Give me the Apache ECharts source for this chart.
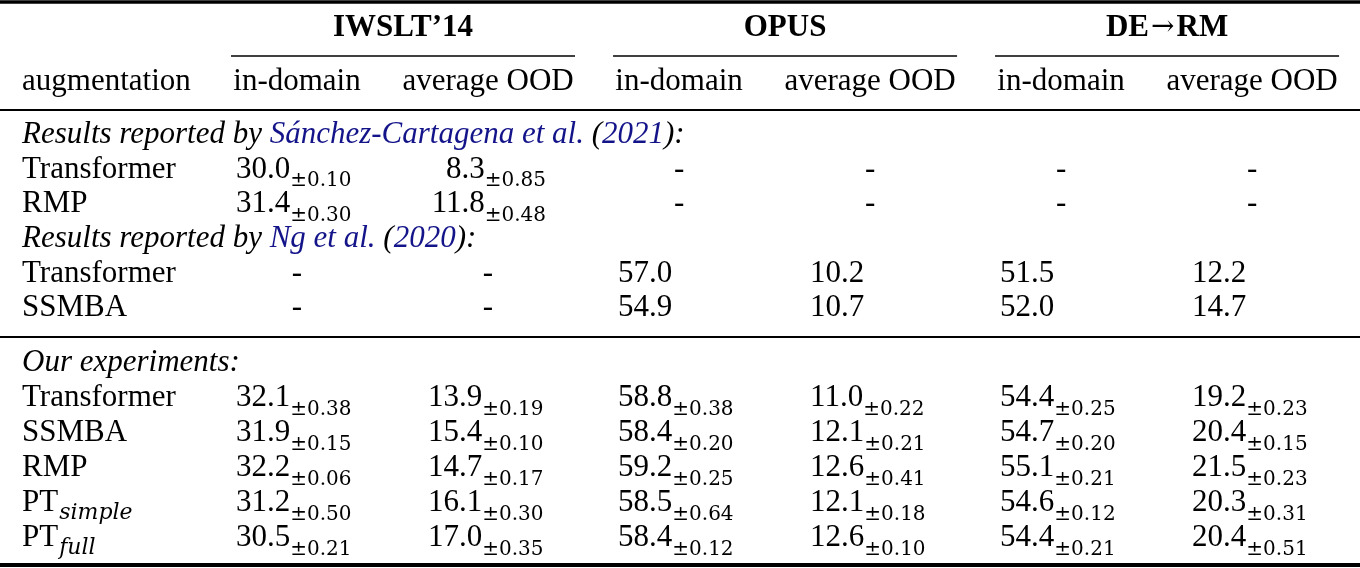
<!DOCTYPE html>
<html><head><meta charset="utf-8">
<script src="https://cdn.jsdelivr.net/npm/echarts@6/dist/echarts.min.js"></script>
<style>html,body{margin:0;padding:0;background:#fff}#c{width:1360px;height:568px}</style>
</head><body><div id="c"></div>
<script>
// ---------- data ----------
const groups = ['IWSLT’14', 'OPUS', 'DE→RM'];
const groupSpans = [[1, 2], [3, 4], [5, 6]];
const columnHeaders = ['augmentation', 'in-domain', 'average OOD', 'in-domain', 'average OOD', 'in-domain', 'average OOD'];

const sanchezCite = ['Sánchez-Cartagena et al.', '2021'];
const sanchezModels = ['Transformer', 'RMP'];
const sanchezIwsltIn = [30.0, 31.4];
const sanchezIwsltInStd = [0.10, 0.30];
const sanchezIwsltOod = [8.3, 11.8];
const sanchezIwsltOodStd = [0.85, 0.48];

const ngCite = ['Ng et al.', '2020'];
const ngModels = ['Transformer', 'SSMBA'];
const ngOpusIn = [57.0, 54.9];
const ngOpusOod = [10.2, 10.7];
const ngDeIn = [51.5, 52.0];
const ngDeOod = [12.2, 14.7];

const ourTitle = 'Our experiments:';
const ourModels = ['Transformer', 'SSMBA', 'RMP', 'PT', 'PT'];
const ourModelSubs = ['', '', '', 'simple', 'full'];
const ourIwsltIn = [32.1, 31.9, 32.2, 31.2, 30.5];
const ourIwsltInStd = [0.38, 0.15, 0.06, 0.50, 0.21];
const ourIwsltOod = [13.9, 15.4, 14.7, 16.1, 17.0];
const ourIwsltOodStd = [0.19, 0.10, 0.17, 0.30, 0.35];
const ourOpusIn = [58.8, 58.4, 59.2, 58.5, 58.4];
const ourOpusInStd = [0.38, 0.20, 0.25, 0.64, 0.12];
const ourOpusOod = [11.0, 12.1, 12.6, 12.1, 12.6];
const ourOpusOodStd = [0.22, 0.21, 0.41, 0.18, 0.10];
const ourDeIn = [54.4, 54.7, 55.1, 54.6, 54.4];
const ourDeInStd = [0.25, 0.20, 0.21, 0.12, 0.21];
const ourDeOod = [19.2, 20.4, 21.5, 20.3, 20.4];
const ourDeOodStd = [0.23, 0.15, 0.23, 0.31, 0.51];

// ---------- styles ----------
const SERIF = '"Liberation Serif", "Times New Roman", serif';
const SUBF = '"DejaVu Serif", serif';
const CITE = '#14148a';
const base = { fontFamily: SERIF, fontSize: 31, lineHeight: 36, color: '#000', textBorderWidth: 0 };
const rich = {
  n: Object.assign({}, base),
  i: Object.assign({}, base, { fontStyle: 'italic' }),
  c: Object.assign({}, base, { fontStyle: 'italic', color: CITE }),
  s: { fontFamily: SUBF, fontSize: 20, lineHeight: 36, color: '#000', textBorderWidth: 0, padding: [23, 0, 0, 0] },
  m: { fontFamily: SUBF, fontSize: 22, lineHeight: 36, color: '#000', textBorderWidth: 0, fontStyle: 'italic', padding: [20, 0, 0, 1] }
};
const headRich = {
  b: { fontFamily: SERIF, fontSize: 31, fontWeight: 'bold', lineHeight: 36, color: '#000' },
  a: { fontFamily: SUBF, fontSize: 28, fontWeight: 'normal', lineHeight: 36, color: '#000', padding: [0, 2, 0, 2] }
};
const kinds = {
  name: { align: 'left', offset: [-84, 0] },
  inL: { align: 'left', offset: [-61, 0] },
  oodL: { align: 'left', offset: [-60, 0] },
  oodR: { align: 'right', offset: [58, 0] },
  mid: { align: 'center', offset: [0, 0] }
};

function num(v, sd) {
  return '{n|' + v.toFixed(1) + '}' + (sd === undefined ? '' : '{s|±' + sd.toFixed(2) + '}');
}
function cell(col, row, text, kind) {
  return { value: [col, row], text: text, label: kinds[kind] };
}
function citeTitle(cite) {
  return '{i|Results reported by }{c|' + cite[0] + '}{i| (}{c|' + cite[1] + '}{i|):}';
}
function modelName(name, sub) {
  return '{n|' + name + '}' + (sub ? '{m|' + sub + '}' : '');
}
function groupText(g) {
  return '{b|' + g.replace('→', '}{a|→}{b|') + '}';
}

// header cells
const headCells = columnHeaders.map((h, k) => cell(k, 1, '{n|' + h + '}', k === 0 ? 'name' : 'mid'));

// section 1 cells
const s1Cells = [];
s1Cells.push(cell(0, 0, citeTitle(sanchezCite), 'name'));
sanchezModels.forEach((m, r) => {
  const row = 1 + r;
  s1Cells.push(cell(0, row, modelName(m, ''), 'name'));
  s1Cells.push(cell(1, row, num(sanchezIwsltIn[r], sanchezIwsltInStd[r]), 'inL'));
  s1Cells.push(cell(2, row, num(sanchezIwsltOod[r], sanchezIwsltOodStd[r]), 'oodR'));
  for (let k = 3; k <= 6; k++) s1Cells.push(cell(k, row, '{n|-}', 'mid'));
});
s1Cells.push(cell(0, 3, citeTitle(ngCite), 'name'));
ngModels.forEach((m, r) => {
  const row = 4 + r;
  s1Cells.push(cell(0, row, modelName(m, ''), 'name'));
  s1Cells.push(cell(1, row, '{n|-}', 'mid'));
  s1Cells.push(cell(2, row, '{n|-}', 'mid'));
  s1Cells.push(cell(3, row, num(ngOpusIn[r]), 'inL'));
  s1Cells.push(cell(4, row, num(ngOpusOod[r]), 'oodL'));
  s1Cells.push(cell(5, row, num(ngDeIn[r]), 'inL'));
  s1Cells.push(cell(6, row, num(ngDeOod[r]), 'oodL'));
});

// section 2 cells
const s2Cells = [cell(0, 0, '{i|' + ourTitle + '}', 'name')];
const ourCols = [
  [ourIwsltIn, ourIwsltInStd, 'inL'], [ourIwsltOod, ourIwsltOodStd, 'oodL'],
  [ourOpusIn, ourOpusInStd, 'inL'], [ourOpusOod, ourOpusOodStd, 'oodL'],
  [ourDeIn, ourDeInStd, 'inL'], [ourDeOod, ourDeOodStd, 'oodL']
];
ourModels.forEach((m, r) => {
  const row = 1 + r;
  s2Cells.push(cell(0, row, modelName(m, ourModelSubs[r]), 'name'));
  ourCols.forEach((c, j) => s2Cells.push(cell(j + 1, row, num(c[0][r], c[1][r]), c[2])));
});

// ---------- chart ----------
const X_MIN = -0.555, X_MAX = 6.565;
function xAxis(grid, pos, show, width) {
  return {
    type: 'value', gridIndex: grid, position: pos, min: X_MIN, max: X_MAX,
    show: true,
    axisLine: { show: show, onZero: false, lineStyle: { color: '#000', width: width } },
    axisTick: { show: false }, axisLabel: { show: false }, splitLine: { show: false }
  };
}
function yAxis(grid, min, max) {
  return { type: 'value', gridIndex: grid, inverse: true, min: min, max: max, show: false, splitLine: { show: false } };
}
function textSeries(xi, yi, data) {
  return {
    type: 'scatter', xAxisIndex: xi, yAxisIndex: yi, data: data, silent: true,
    symbolSize: 0, itemStyle: { color: '#000', opacity: 0 },
    label: {
      show: true, position: [0, 0], verticalAlign: 'middle', lineHeight: 36,
      color: '#000', opacity: 1, textBorderWidth: 0, textBorderColor: 'transparent',
      formatter: p => p.data.text, rich: rich
    },
    emphasis: { disabled: true }
  };
}

const chart = echarts.init(document.getElementById('c'), null, { renderer: 'canvas' });
chart.setOption({
  animation: false,
  backgroundColor: '#fff',
  grid: [
    { left: 0, right: 0, top: 1.75, height: 107.95 },
    { left: 0, right: 0, top: 110, height: 227 },
    { left: 0, right: 0, top: 336.7, height: 227.8 }
  ],
  xAxis: [
    xAxis(0, 'top', true, 3.5),
    xAxis(0, 'bottom', true, 2),
    xAxis(1, 'bottom', false, 1),
    xAxis(2, 'top', true, 2),
    xAxis(2, 'bottom', true, 4)
  ],
  yAxis: [
    yAxis(0, -0.486, 1.513),
    yAxis(1, -0.7225, 5.838),
    yAxis(2, -0.751, 5.757)
  ],
  series: [
    textSeries(0, 0, headCells),
    {
      type: 'custom', xAxisIndex: 0, yAxisIndex: 0, silent: true, clip: false,
      data: groupSpans,
      renderItem: (params, api) => {
        const a = api.coord([api.value(0), 0]);
        const b = api.coord([api.value(1), 0]);
        const m = api.coord([api.value(0), 0.5]);
        const x1 = a[0] - 66, x2 = b[0] + 87;
        return {
          type: 'group', children: [
            { type: 'line', shape: { x1: x1, y1: m[1] + 1, x2: x2, y2: m[1] + 1 }, style: { stroke: '#000', lineWidth: 1.3 } },
            { type: 'text', x: (x1 + x2) / 2, y: a[1], style: { text: groupText(groups[params.dataIndex]), rich: headRich, fill: '#000', align: 'center', verticalAlign: 'middle' } }
          ]
        };
      }
    },
    textSeries(2, 1, s1Cells),
    textSeries(3, 2, s2Cells)
  ]
});
</script></body></html>
